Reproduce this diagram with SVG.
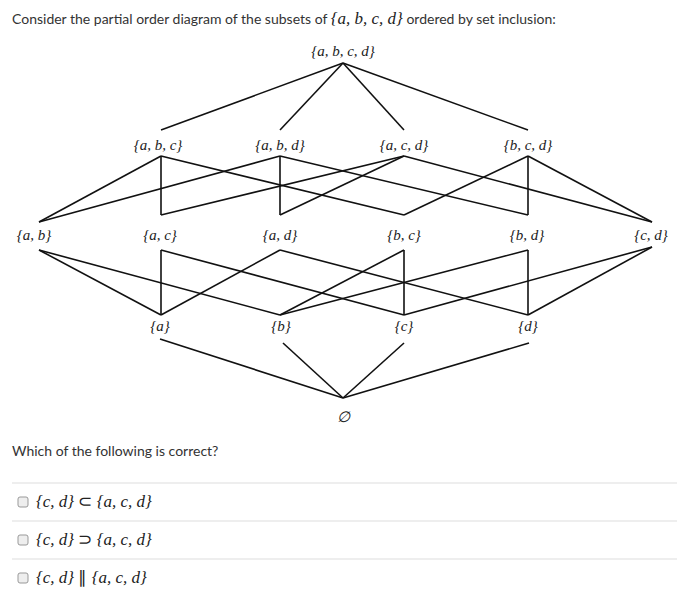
<svg xmlns="http://www.w3.org/2000/svg" width="677" height="605" viewBox="0 0 677 605">
<style>
.t{font-family:Lato,"Liberation Sans",sans-serif;font-size:14px;fill:#333}
.m{font-family:"Liberation Serif",serif;font-style:italic;font-size:15px;fill:#222;text-anchor:middle}
.o{font-family:"Liberation Serif",serif;font-size:17px;fill:#222}
.e line{stroke:#111;stroke-width:1.6}
.sep{stroke:#ddd;stroke-width:1}
.cb{fill:#eee;stroke:#999;stroke-width:1}
</style>
<rect width="677" height="605" fill="#fff"/>
<text class="t" x="12" y="24">Consider the partial order diagram of the subsets of <tspan class="o" font-style="italic" font-size="18">{a, b, c, d}</tspan> ordered by set inclusion:</text>
<g id="nodes">
<g id="n-abcd"><text class="m" x="343" y="56">{a, b, c, d}</text></g>
<g id="n-abc"><text class="m" x="158" y="150">{a, b, c}</text></g>
<g id="n-abd"><text class="m" x="280" y="150">{a, b, d}</text></g>
<g id="n-acd"><text class="m" x="404" y="150">{a, c, d}</text></g>
<g id="n-bcd"><text class="m" x="528" y="150">{b, c, d}</text></g>
<g id="n-ab"><text class="m" x="34" y="240">{a, b}</text></g>
<g id="n-ac"><text class="m" x="160" y="240">{a, c}</text></g>
<g id="n-ad"><text class="m" x="280" y="240">{a, d}</text></g>
<g id="n-bc"><text class="m" x="404" y="240">{b, c}</text></g>
<g id="n-bd"><text class="m" x="527" y="240">{b, d}</text></g>
<g id="n-cd"><text class="m" x="651" y="240">{c, d}</text></g>
<g id="n-a"><text class="m" x="160" y="331">{a}</text></g>
<g id="n-b"><text class="m" x="281" y="331">{b}</text></g>
<g id="n-c"><text class="m" x="404" y="331">{c}</text></g>
<g id="n-d"><text class="m" x="528" y="331">{d}</text></g>
<g id="n-empty"><text class="m" x="343" y="422">∅</text></g>
</g>
<g id="connectors" class="e">
<line x1="343" y1="63" x2="161" y2="130"/>
<line x1="343" y1="63" x2="280" y2="130"/>
<line x1="343" y1="63" x2="404" y2="130"/>
<line x1="343" y1="63" x2="528" y2="130"/>
<line x1="161" y1="156" x2="39" y2="222"/>
<line x1="161" y1="156" x2="161" y2="215"/>
<line x1="161" y1="156" x2="404" y2="215"/>
<line x1="280" y1="156" x2="39" y2="222"/>
<line x1="280" y1="156" x2="280" y2="215"/>
<line x1="280" y1="156" x2="528" y2="215"/>
<line x1="404" y1="156" x2="161" y2="215"/>
<line x1="404" y1="156" x2="280" y2="215"/>
<line x1="404" y1="156" x2="652" y2="222"/>
<line x1="528" y1="156" x2="404" y2="215"/>
<line x1="528" y1="156" x2="528" y2="215"/>
<line x1="528" y1="156" x2="652" y2="222"/>
<line x1="39" y1="250" x2="161" y2="315"/>
<line x1="39" y1="250" x2="280" y2="315"/>
<line x1="161" y1="250" x2="161" y2="315"/>
<line x1="161" y1="250" x2="404" y2="315"/>
<line x1="280" y1="250" x2="161" y2="315"/>
<line x1="280" y1="250" x2="528" y2="315"/>
<line x1="404" y1="250" x2="280" y2="315"/>
<line x1="404" y1="250" x2="404" y2="315"/>
<line x1="528" y1="250" x2="280" y2="315"/>
<line x1="528" y1="250" x2="528" y2="315"/>
<line x1="652" y1="247" x2="404" y2="315"/>
<line x1="652" y1="247" x2="528" y2="315"/>
<line x1="160" y1="339" x2="343" y2="398"/>
<line x1="283" y1="343" x2="343" y2="398"/>
<line x1="404" y1="343" x2="343" y2="398"/>
<line x1="529" y1="343" x2="343" y2="398"/>
</g>
<text class="t" x="12" y="456">Which of the following is correct?</text>
<line class="sep" x1="12" y1="483" x2="677" y2="483"/>
<line class="sep" x1="12" y1="521" x2="677" y2="521"/>
<line class="sep" x1="12" y1="559" x2="677" y2="559"/>
<rect class="cb" x="18" y="497" width="10" height="10" rx="2"/>
<rect class="cb" x="18" y="535" width="10" height="10" rx="2"/>
<rect class="cb" x="18" y="573" width="10" height="10" rx="2"/>
<text class="o" x="36" y="507"><tspan font-style="italic">{c, d}</tspan> ⊂ <tspan font-style="italic">{a, c, d}</tspan></text>
<text class="o" x="36" y="545"><tspan font-style="italic">{c, d}</tspan> ⊃ <tspan font-style="italic">{a, c, d}</tspan></text>
<text class="o" x="36" y="583"><tspan font-style="italic">{c, d}</tspan> ∥ <tspan font-style="italic">{a, c, d}</tspan></text>
</svg>
